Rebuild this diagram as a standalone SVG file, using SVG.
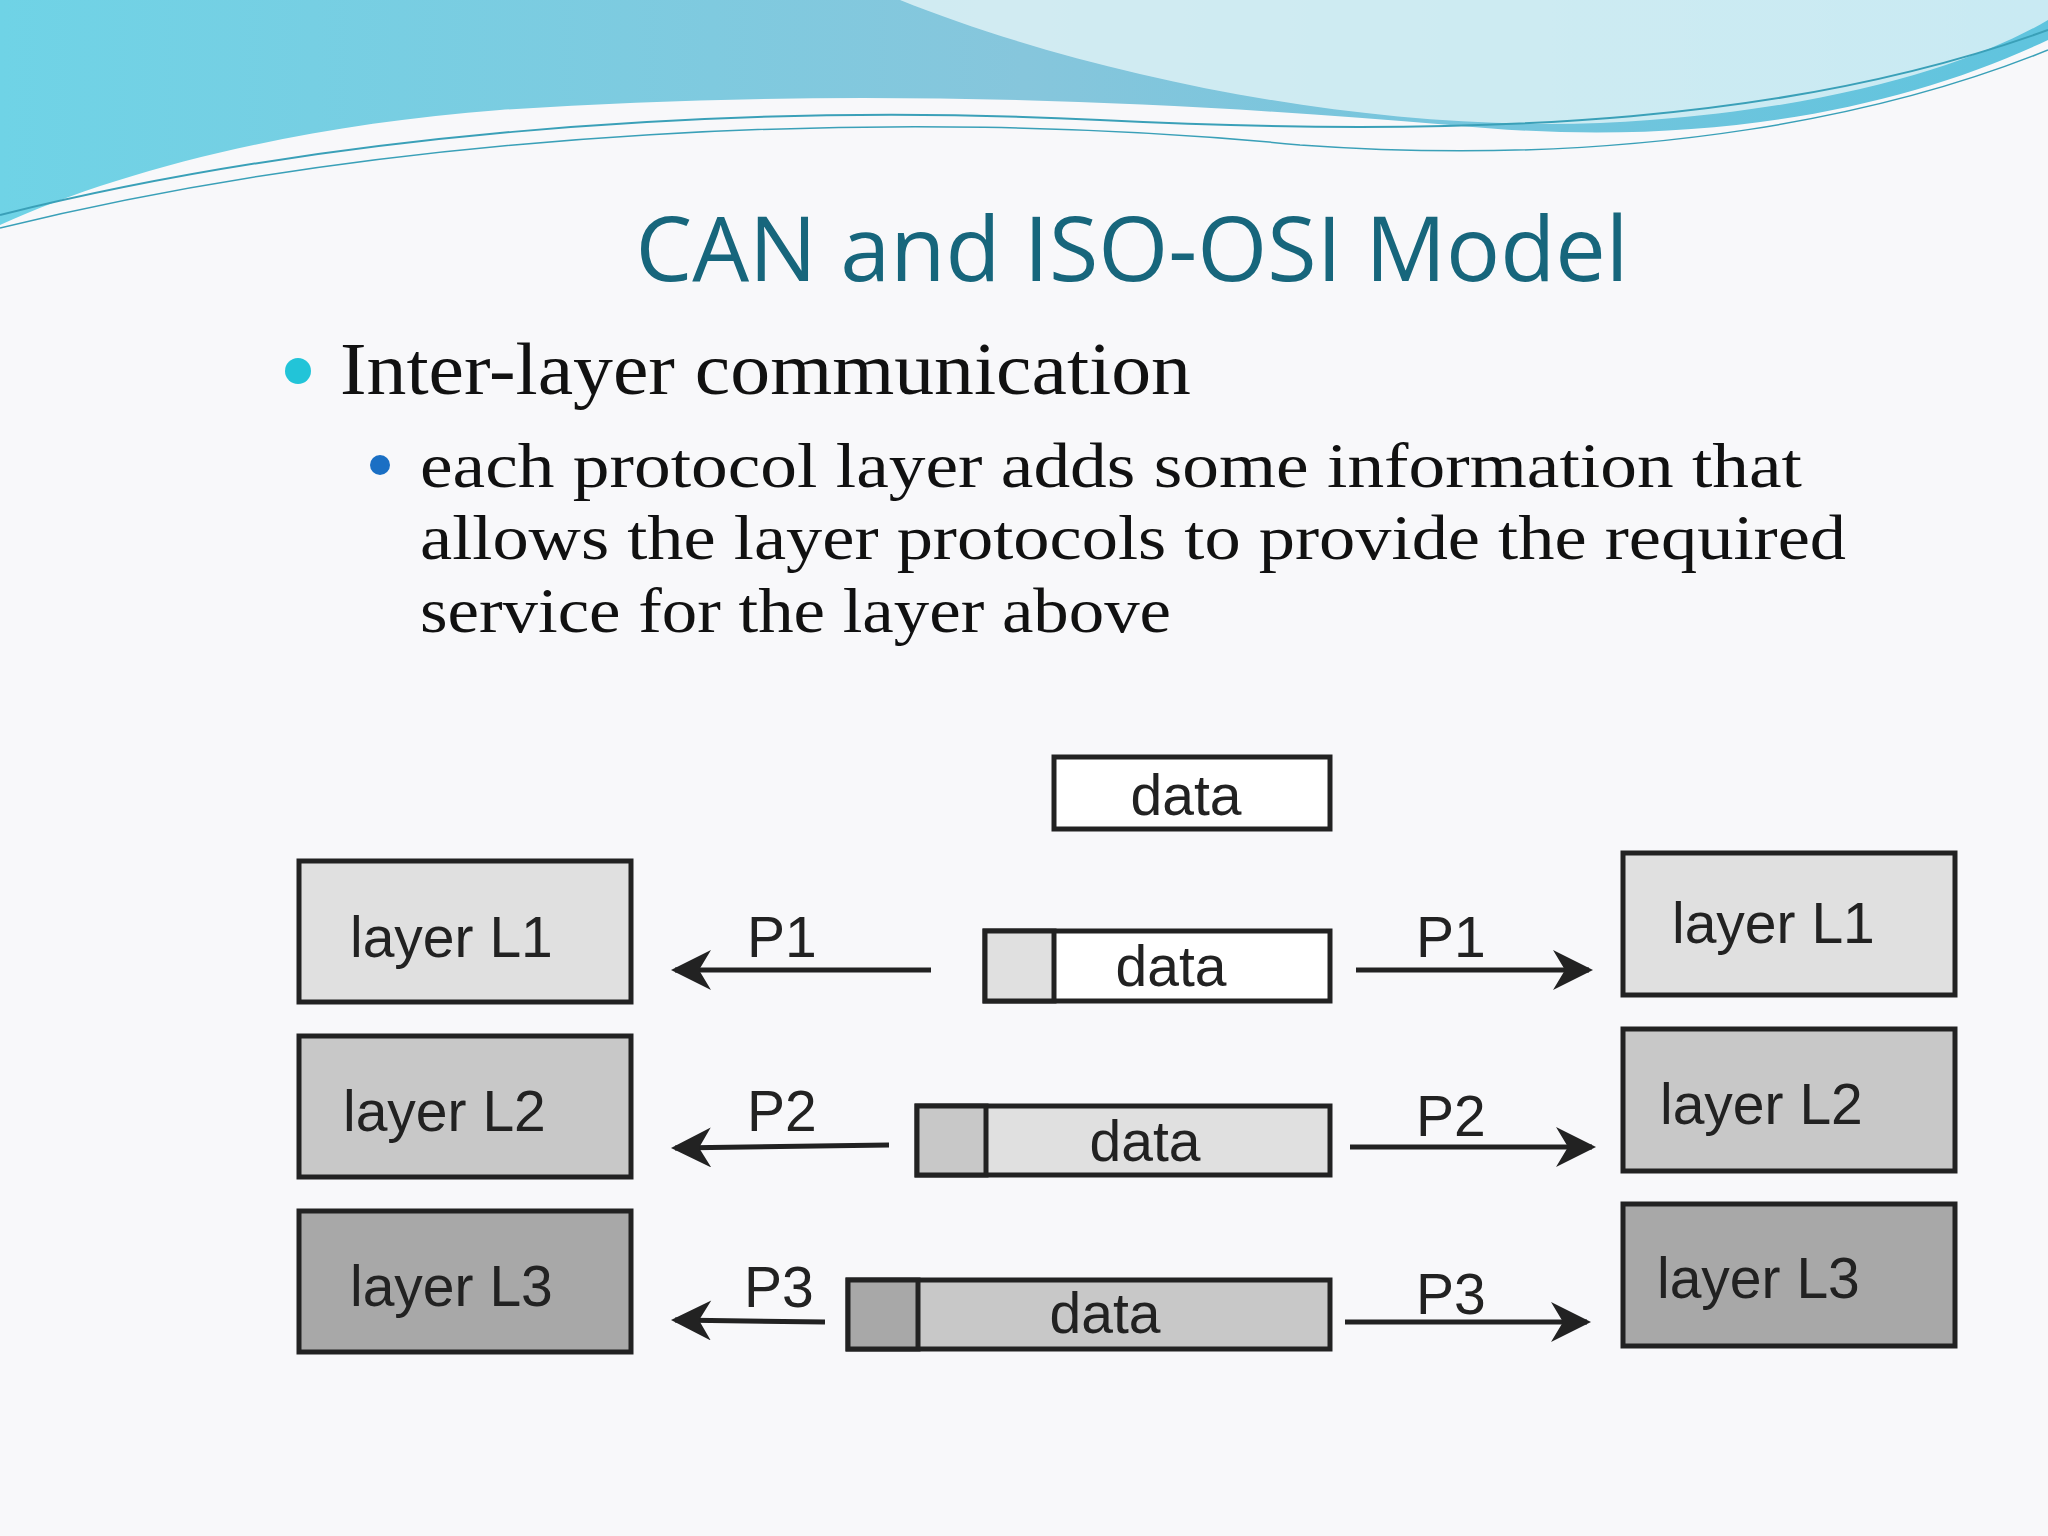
<svg xmlns="http://www.w3.org/2000/svg" width="2048" height="1536" viewBox="0 0 2048 1536">
<defs>
<linearGradient id="wave" x1="0" y1="0" x2="1" y2="0">
<stop offset="0" stop-color="#6fd3e6"/><stop offset="0.5" stop-color="#86c6dc"/><stop offset="1" stop-color="#5fc4de"/>
</linearGradient>
<marker id="ah" viewBox="0 0 10 10" refX="9" refY="5" markerWidth="9" markerHeight="8" markerUnits="strokeWidth" orient="auto">
<path d="M0,0 L10,5 L0,10 L3,5 Z" fill="#222"/>
</marker>
<style>
.box{stroke:#222;stroke-width:5}
.t{font-family:"Liberation Sans",Arial,sans-serif;font-size:57px;fill:#222}
.s{font-family:"Liberation Serif","Times New Roman",serif;fill:#111}
.c{stroke:#222;stroke-width:5;fill:none;marker-end:url(#ah)}
</style>
</defs>
<rect width="2048" height="1536" fill="#f8f8fa"/>
<path d="M0,0 H2048 V40 C1900,110 1700,150 1450,125 C1100,95 800,90 500,110 C300,125 120,170 0,225 Z" fill="url(#wave)"/>
<path d="M900,0 C1100,80 1400,140 1650,120 C1850,105 1980,60 2048,20 V0 Z" fill="#e4f4f8" opacity="0.8"/>
<path d="M0,215 C300,140 700,100 1100,120 C1500,140 1800,120 2048,30" stroke="#3aa0b8" stroke-width="2" fill="none"/>
<path d="M0,228 C400,130 900,105 1300,145 C1650,170 1900,110 2048,50" stroke="#3aa0b8" stroke-width="1.5" fill="none"/>
<text x="1132" y="281" text-anchor="middle" font-family="'Open Sans','Liberation Sans',sans-serif" font-size="90" fill="#17667c">CAN and ISO-OSI Model</text>
<circle cx="298" cy="371" r="13" fill="#22c4d8"/>
<text class="s" x="340" y="394" font-size="74" textLength="851" lengthAdjust="spacingAndGlyphs">Inter-layer communication</text>
<circle cx="380" cy="465" r="10" fill="#1a6fc4"/>
<text class="s" x="420" y="487" font-size="64" textLength="1382" lengthAdjust="spacingAndGlyphs">each protocol layer adds some information that</text>
<text class="s" x="420" y="559" font-size="64" textLength="1426" lengthAdjust="spacingAndGlyphs">allows the layer protocols to provide the required</text>
<text class="s" x="420" y="632" font-size="64" textLength="751" lengthAdjust="spacingAndGlyphs">service for the layer above</text>
<g id="left-L1"><rect class="box" x="299" y="861" width="332" height="141" fill="#e0e0e0"/><text class="t" x="350" y="957">layer L1</text></g>
<g id="left-L2"><rect class="box" x="299" y="1036" width="332" height="141" fill="#c8c8c8"/><text class="t" x="343" y="1131">layer L2</text></g>
<g id="left-L3"><rect class="box" x="299" y="1211" width="332" height="141" fill="#a8a8a8"/><text class="t" x="350" y="1306">layer L3</text></g>
<g id="right-L1"><rect class="box" x="1623" y="853" width="332" height="142" fill="#e0e0e0"/><text class="t" x="1672" y="943">layer L1</text></g>
<g id="right-L2"><rect class="box" x="1623" y="1029" width="332" height="142" fill="#c8c8c8"/><text class="t" x="1660" y="1124">layer L2</text></g>
<g id="right-L3"><rect class="box" x="1623" y="1204" width="332" height="142" fill="#a8a8a8"/><text class="t" x="1657" y="1298">layer L3</text></g>
<g id="data0"><rect class="box" x="1054" y="757" width="276" height="72" fill="#fff"/><text class="t" x="1186" y="815" text-anchor="middle">data</text></g>
<g id="data1"><rect class="box" x="985" y="931" width="345" height="70" fill="#fff"/><rect class="box" x="985" y="931" width="69" height="70" fill="#e0e0e0"/><text class="t" x="1171" y="986" text-anchor="middle">data</text></g>
<g id="data2"><rect class="box" x="917" y="1106" width="413" height="69" fill="#e0e0e0"/><rect class="box" x="917" y="1106" width="69" height="69" fill="#c8c8c8"/><text class="t" x="1145" y="1161" text-anchor="middle">data</text></g>
<g id="data3"><rect class="box" x="848" y="1280" width="482" height="69" fill="#c8c8c8"/><rect class="box" x="848" y="1280" width="70" height="69" fill="#a8a8a8"/><text class="t" x="1105" y="1333" text-anchor="middle">data</text></g>
<g id="connectors">
<line class="c" x1="931" y1="970" x2="675" y2="970"/>
<line class="c" x1="889" y1="1145" x2="675" y2="1148"/>
<line class="c" x1="825" y1="1322" x2="675" y2="1320"/>
<line class="c" x1="1356" y1="970" x2="1589" y2="970"/>
<line class="c" x1="1350" y1="1147" x2="1592" y2="1147"/>
<line class="c" x1="1345" y1="1322" x2="1587" y2="1322"/>
<text class="t" x="747" y="957">P1</text>
<text class="t" x="747" y="1131">P2</text>
<text class="t" x="744" y="1307">P3</text>
<text class="t" x="1416" y="957">P1</text>
<text class="t" x="1416" y="1136">P2</text>
<text class="t" x="1416" y="1314">P3</text>
</g>
</svg>
